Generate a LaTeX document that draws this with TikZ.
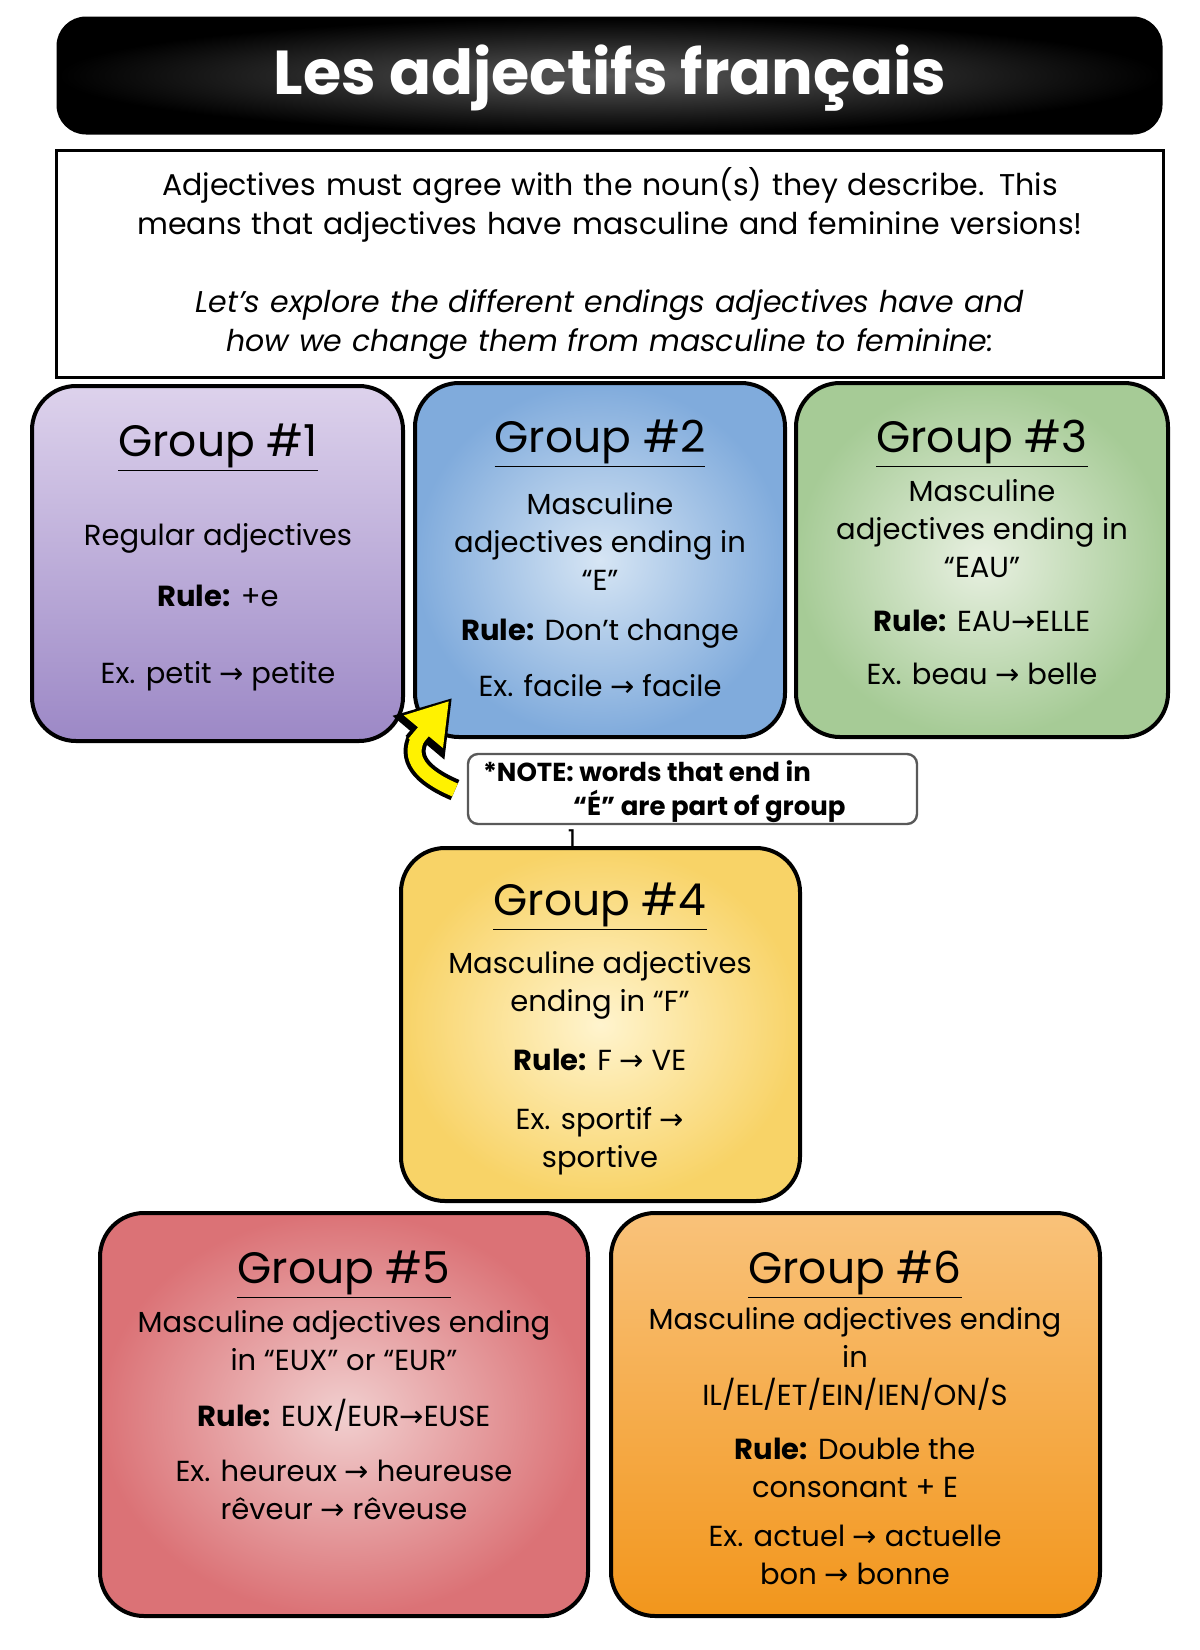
\documentclass[tikz,border=0pt]{standalone}
\usepackage{fontspec}
\setmainfont{Poppins}
\newfontfamily\dvf{DejaVu Sans}
\newcommand{\rar}{{\dvf →}}
\usetikzlibrary{arrows.meta}
\definecolor{pA}{HTML}{DDD2EC}\definecolor{pB}{HTML}{9C88C6}
\definecolor{bA}{HTML}{D6E5F4}\definecolor{bB}{HTML}{80ABDC}
\definecolor{gA}{HTML}{E8F0E1}\definecolor{gB}{HTML}{A6CB96}
\definecolor{yA}{HTML}{FFF4CE}\definecolor{yB}{HTML}{F8D367}
\definecolor{rA}{HTML}{F1CFCF}\definecolor{rB}{HTML}{DB7276}
\definecolor{oA}{HTML}{F9C27A}\definecolor{oB}{HTML}{F2961C}
\tikzset{
 grp/.style={draw=black,line width=2pt,rounded corners=22pt},
 txt/.style={align=center,font=\fontsize{14.5}{19}\selectfont},
 head/.style={font=\fontsize{22}{26}\selectfont},
}
\newcommand{\hd}[1]{\underline{#1}}
\begin{document}
\begin{tikzpicture}[x=0.5pt,y=-0.5pt]
\useasboundingbox (0,0) rectangle (1200,1650);
% title
\path[draw=black,line width=1.5pt,rounded corners=14pt,inner color=gray!70!black,outer color=black] (58,18) rectangle (1161,133);
\node (title) at (610,78) {\color{white}\fontsize{31}{34}\selectfont\bfseries Les adjectifs français};
% intro
\draw[line width=1.5pt] (56,150) rectangle (1163,377);
\node[txt,text width=535pt,font=\fontsize{15}{19.5}\selectfont] (intro) at (610,264) {Adjectives must agree with the noun(s) they describe. This means that adjectives have masculine and feminine versions!\\[19.5pt]\itshape Let's explore the different endings adjectives have and how we change them from masculine to feminine:};
% G1
\path[grp,top color=pA,bottom color=pB] (32,386) rectangle (403,741);
\node[head] (g1h) at (218,448) {\hd{Group \#1}};
\node[txt] (g1a) at (218,538) {Regular adjectives};
\node[txt] (g1b) at (218,596) {\textbf{Rule:} +e};
\node[txt] (g1c) at (218,676) {Ex. petit \rar\ petite};
% G2
\path[grp,inner color=bA,outer color=bB] (415,383) rectangle (785,737);
\node[head] (g2h) at (600,444) {\hd{Group \#2}};
\node[txt] (g2a) at (600,541) {Masculine\\adjectives ending in\\“E”};
\node[txt] (g2b) at (600,634) {\textbf{Rule:} Don't change};
\node[txt] (g2c) at (600,686) {Ex. facile \rar\ facile};
% G3
\path[grp,inner color=gA,outer color=gB] (796,383) rectangle (1168,737);
\node[head] (g3h) at (982,444) {\hd{Group \#3}};
\node[txt] (g3a) at (982,529) {Masculine\\adjectives ending in\\“EAU”};
\node[txt] (g3b) at (982,621) {\textbf{Rule:} EAU\rar ELLE};
\node[txt] (g3c) at (982,674) {Ex. beau \rar\ belle};
% note
\draw[gray!70!black,line width=1.2pt,rounded corners=5pt,fill=white] (468,754) rectangle (917,824);
\node[anchor=north west,font=\fontsize{13}{17}\selectfont\bfseries,align=left] (note) at (476,754) {*NOTE: words that end in\\\hspace*{45pt}“É” are part of group};
\node[font=\fontsize{13}{15}\selectfont] (one) at (572,839) {1};
\coordinate (ns) at (455,790);
\coordinate (nm) at (418,738);
\coordinate (ne) at (452,698);
\draw[line width=11pt,black] (ns) .. controls (420,775) and (408,758) .. (nm);
\draw[line width=11pt,black,-{Triangle[length=26pt,width=32pt]}] ([shift={(-4,5)}]nm) -- (ne);
\draw[line width=7pt,yellow] (ns) .. controls (420,775) and (408,758) .. (nm);
\draw[line width=7pt,yellow,-{Triangle[length=20pt,width=24pt]}] ([shift={(-4,5)}]nm) -- ([shift={(-3,3)}]ne);
% G4
\path[grp,inner color=yA,outer color=yB] (401,848) rectangle (800,1201);
\node[head] (g4h) at (600,907) {\hd{Group \#4}};
\node[txt] (g4a) at (600,985) {Masculine adjectives\\ending in “F”};
\node[txt] (g4b) at (600,1060) {\textbf{Rule:} F \rar\ VE};
\node[txt] (g4c) at (600,1141) {Ex. sportif \rar\\sportive};
% G5
\path[grp,inner color=rA,outer color=rB] (100,1213) rectangle (588,1616);
\node[head] (g5h) at (344,1275) {\hd{Group \#5}};
\node[txt] (g5a) at (344,1341) {Masculine adjectives ending\\in “EUX” or “EUR”};
\node[txt] (g5b) at (344,1415) {\textbf{Rule:} EUX/EUR\rar EUSE};
\node[txt] (g5c) at (344,1490) {Ex. heureux \rar\ heureuse\\rêveur \rar\ rêveuse};
% G6
\path[grp,top color=oA,bottom color=oB] (611,1213) rectangle (1100,1616);
\node[head] (g6h) at (855,1275) {\hd{Group \#6}};
\node[txt] (g6a) at (855,1359) {Masculine adjectives ending\\in\\IL/EL/ET/EIN/IEN/ON/S};
\node[txt] (g6b) at (855,1468) {\textbf{Rule:} Double the\\consonant + E};
\node[txt] (g6c) at (855,1555) {Ex. actuel \rar\ actuelle\\bon \rar\ bonne};
\end{tikzpicture}
\end{document}
